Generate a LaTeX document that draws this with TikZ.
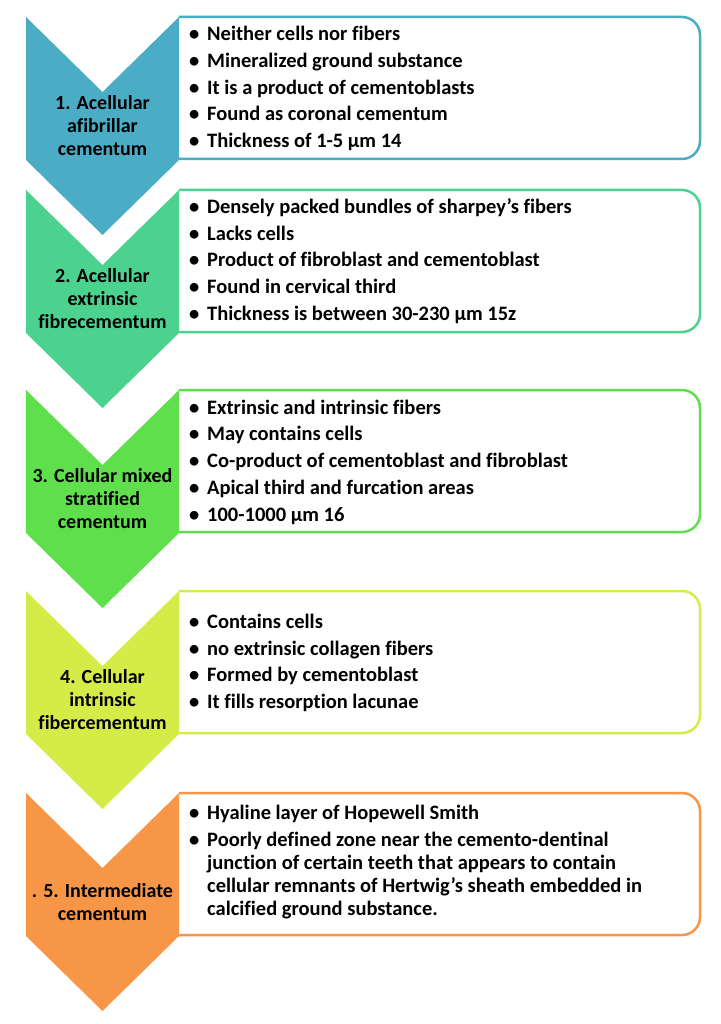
\documentclass[tikz,border=0pt]{standalone}
\usepackage{fontspec}
\setmainfont[Ligatures=NoCommon]{Carlito}
\definecolor{cemBlue}{HTML}{4BACC6}
\definecolor{cemTeal}{HTML}{4CD28F}
\definecolor{cemGreen}{HTML}{60DF4C}
\definecolor{cemLime}{HTML}{D4EB48}
\definecolor{cemOrange}{HTML}{F79646}
\newcommand{\itm}{\makebox[18pt][l]{\textbullet}}
\newcommand{\ind}{\hspace*{18pt}}

\begin{document}
\begin{tikzpicture}[x=1pt, y=-1pt,
    box_style/.style={line width=2.5pt},
    label_style/.style={align=center, inner sep=0pt, font=\bfseries\fontsize{20}{23}\selectfont},
    list_style/.style={anchor=west, align=left, inner sep=0pt, font=\bfseries\fontsize{20.5}{23}\selectfont}
]
    % Page frame
    \useasboundingbox (0,0) rectangle (720,1024);
    \fill[white] (0,0) rectangle (720,1024);

    % Boxes and chevrons, one per cementum type
    \foreach \t/\c in {17/cemBlue, 190/cemTeal, 390/cemGreen, 591/cemLime, 793/cemOrange} {
        \draw[box_style, \c] (179,\t) [rounded corners=18pt] -- (700,\t) -- (700,\t+142) -- (179,\t+142);
        \fill[\c] (26,\t) -- (102.5,\t+75) -- (179,\t) -- (179,\t+143) -- (102.5,\t+218) -- (26,\t+143) -- cycle;
    }

    % Chevron labels
    \node (lab1) at (102.5,126) [label_style] {1. Acellular\\afibrillar\\cementum};
    \node (lab2) at (102.5,299) [label_style] {2. Acellular\\extrinsic\\fibrecementum};
    \node (lab3) at (102.5,499) [label_style] {3. Cellular mixed\\stratified\\cementum};
    \node (lab4) at (102.5,700) [label_style] {4. Cellular\\intrinsic\\fibercementum};
    \node (lab5) at (102.5,902) [label_style] {. 5. Intermediate\\cementum};

    % Bullet lists
    \node (list1) at (189,88.5) [list_style] {\itm Neither cells nor fibers\\[3.75pt]
        \itm Mineralized ground substance\\[3.75pt]
        \itm It is a product of cementoblasts\\[3.75pt]
        \itm Found as coronal cementum\\[3.75pt]
        \itm Thickness of 1-5 µm 14};
    \node (list2) at (189,261) [list_style] {\itm Densely packed bundles of sharpey’s fibers\\[3.75pt]
        \itm Lacks cells\\[3.75pt]
        \itm Product of fibroblast and cementoblast\\[3.75pt]
        \itm Found in cervical third\\[3.75pt]
        \itm Thickness is between 30-230 µm 15z};
    \node (list3) at (189,462) [list_style] {\itm Extrinsic and intrinsic fibers\\[3.75pt]
        \itm May contains cells\\[3.75pt]
        \itm Co-product of cementoblast and fibroblast\\[3.75pt]
        \itm Apical third and furcation areas\\[3.75pt]
        \itm 100-1000 µm 16};
    \node (list4) at (189,663) [list_style] {\itm Contains cells\\[3.75pt]
        \itm no extrinsic collagen fibers\\[3.75pt]
        \itm Formed by cementoblast\\[3.75pt]
        \itm It fills resorption lacunae};
    \node (list5) at (189,862) [list_style] {\itm Hyaline layer of Hopewell Smith\\[3.75pt]
        \itm Poorly defined zone near the cemento-dentinal\\
        \ind junction of certain teeth that appears to contain\\
        \ind cellular remnants of Hertwig’s sheath embedded in\\
        \ind calcified ground substance.};

\end{tikzpicture}
\end{document}
